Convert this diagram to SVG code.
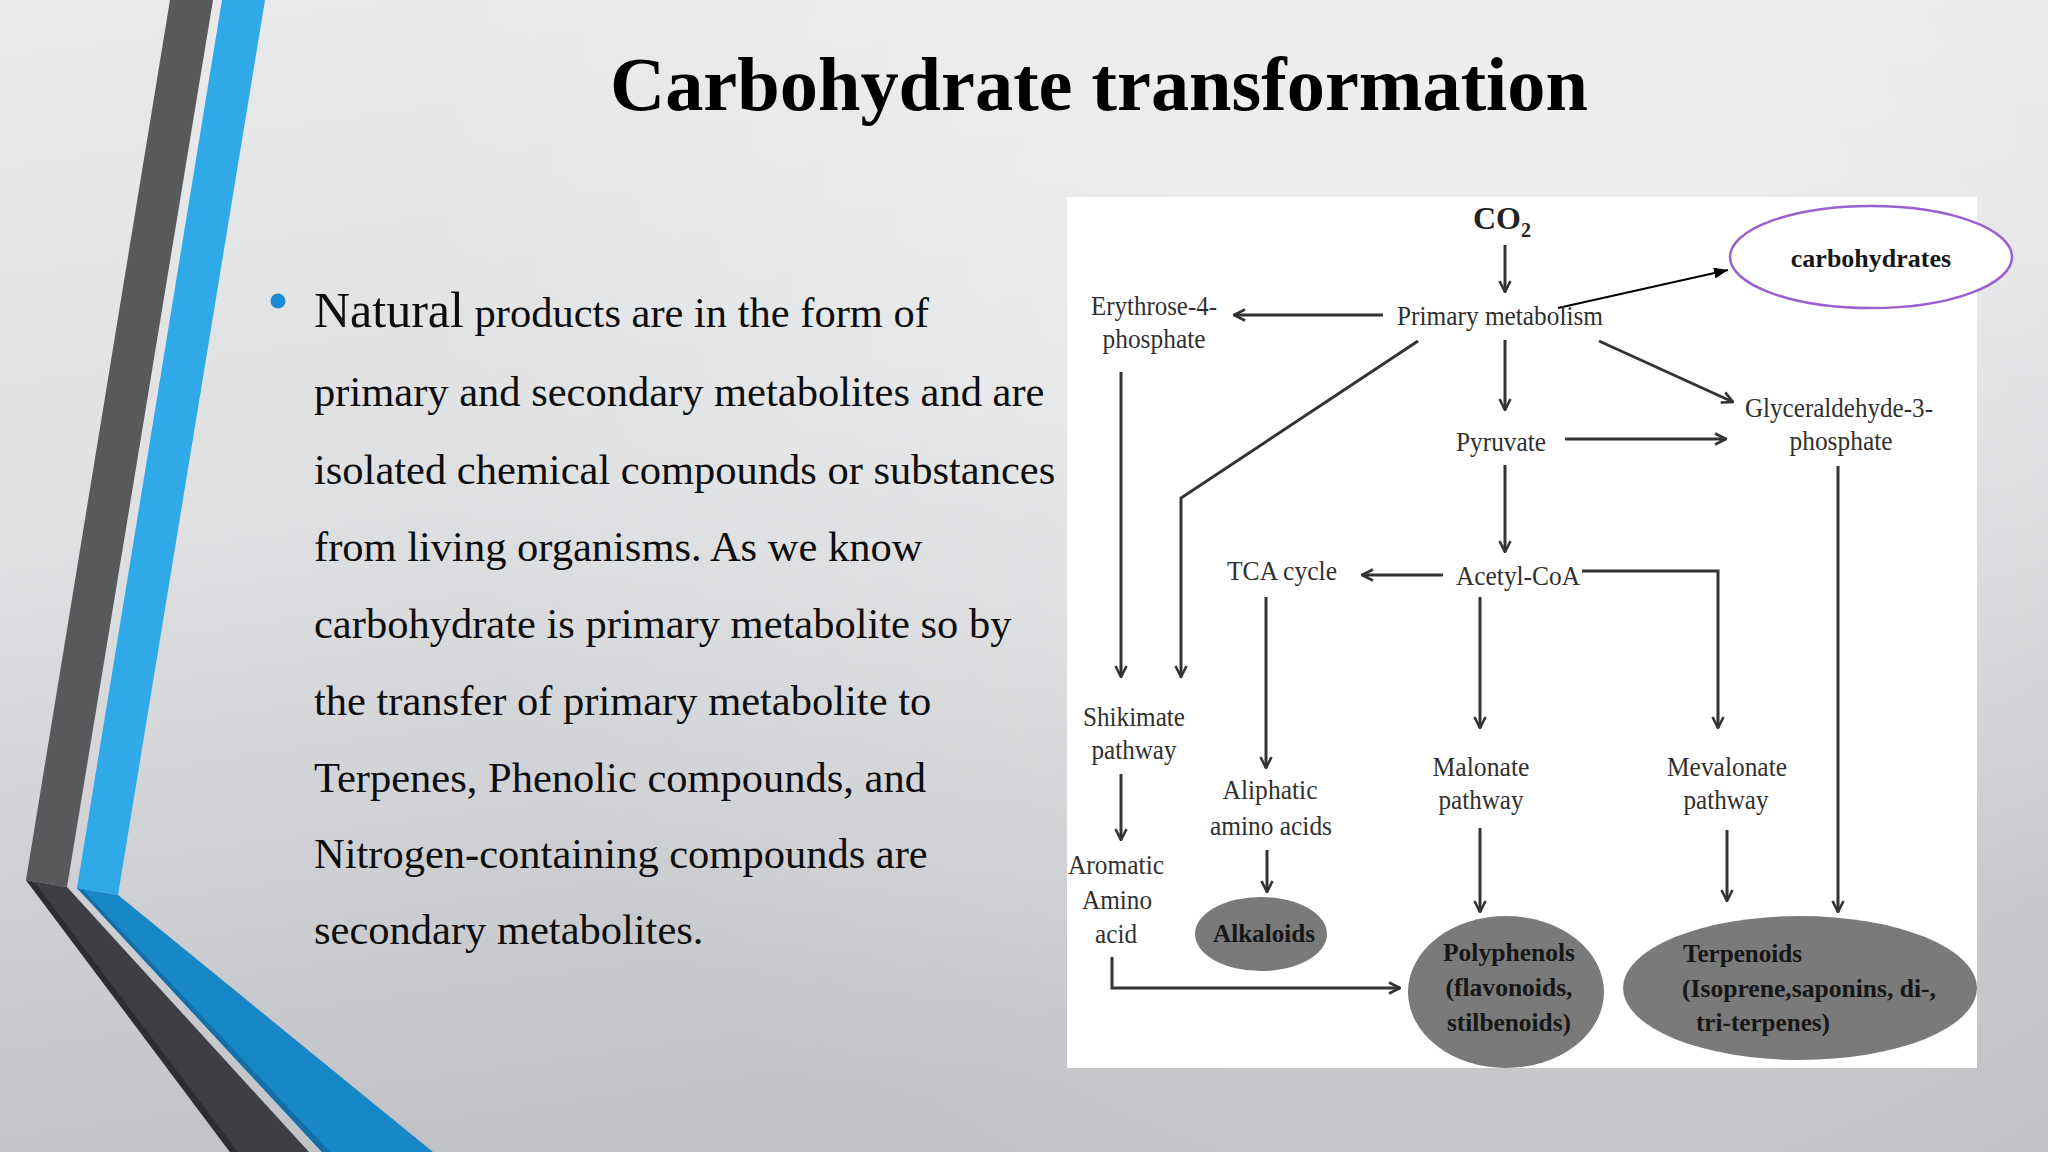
<svg xmlns="http://www.w3.org/2000/svg" width="2048" height="1152" viewBox="0 0 2048 1152">
  <defs>
    <linearGradient id="bg" x1="0" y1="0" x2="0.25" y2="1">
      <stop offset="0" stop-color="#e9eaeb"/>
      <stop offset="0.45" stop-color="#dfe0e2"/>
      <stop offset="1" stop-color="#c0c1c5"/>
    </linearGradient>
    <radialGradient id="glow" cx="1500" cy="250" r="1100" gradientUnits="userSpaceOnUse">
      <stop offset="0" stop-color="#ffffff" stop-opacity="0.45"/>
      <stop offset="1" stop-color="#ffffff" stop-opacity="0"/>
    </radialGradient>
    <marker id="chev" viewBox="0 0 14 14" refX="13" refY="7" markerWidth="14" markerHeight="14" orient="auto" markerUnits="userSpaceOnUse">
      <path d="M2,1.5 L13,7 L2,12.5" fill="none" stroke="#333" stroke-width="2.6"/>
    </marker>
    <marker id="tri" viewBox="0 0 14 11" refX="14" refY="5.5" markerWidth="14" markerHeight="11" orient="auto" markerUnits="userSpaceOnUse">
      <path d="M0,0 L14,5.5 L0,11 z" fill="#000"/>
    </marker>
  </defs>
  <style>
    .title { font-family: "Liberation Serif", "Times New Roman", serif; font-weight: bold; font-size: 77px; fill: #000; }
    .body { font-family: "Liberation Serif", "Times New Roman", serif; font-size: 42.5px; fill: #0d0d0d; }
    .lbl { font-family: "Liberation Serif", "Times New Roman", serif; font-size: 26.5px; fill: #303030; text-anchor: middle; }
    .blbl { font-family: "Liberation Serif", "Times New Roman", serif; font-size: 26px; font-weight: bold; fill: #161616; }
    .conn { fill: none; stroke: #333; stroke-width: 3; }
    .connA { fill: none; stroke: #333; stroke-width: 3; marker-end: url(#chev); }
    .prod { fill: #7a7a7a; }
  </style>

  <!-- background -->
  <rect x="0" y="0" width="2048" height="1152" fill="url(#bg)"/>
  <rect x="0" y="0" width="2048" height="1152" fill="url(#glow)"/>

  <!-- left decoration -->
  <g id="decoration">
    <polygon points="170,0 213,0 67,887 26,880" fill="#58595b"/>
    <polygon points="222,0 265,0 118,895 77,888" fill="#2fa9e8"/>
    <polygon points="26,880 67,887 309,1152 230,1152" fill="#3e3f43"/>
    <polygon points="26,880 36,884 238,1152 230,1152" fill="#2c2d31"/>
    <polygon points="77,888 118,895 433,1152 322,1152" fill="#1787c8"/>
    <polygon points="77,888 84,891 330,1152 322,1152" fill="#136fa6"/>
  </g>

  <!-- title -->
  <text class="title" x="1099" y="110" text-anchor="middle" textLength="978" lengthAdjust="spacingAndGlyphs">Carbohydrate transformation</text>

  <!-- bullet text -->
  <g id="bullet-text">
    <circle cx="278" cy="301" r="7.5" fill="#1a8ad4"/>
    <text class="body" x="314" y="327"><tspan font-size="50">Natural</tspan><tspan font-size="42.5"> products are in the form of</tspan></text>
    <text class="body" x="314" y="406">primary and secondary metabolites and are</text>
    <text class="body" x="314" y="484">isolated chemical compounds or substances</text>
    <text class="body" x="314" y="561">from living organisms. As we know</text>
    <text class="body" x="314" y="638">carbohydrate is primary metabolite so by</text>
    <text class="body" x="314" y="715">the transfer of primary metabolite to</text>
    <text class="body" x="314" y="792">Terpenes, Phenolic compounds, and</text>
    <text class="body" x="314" y="868">Nitrogen-containing compounds are</text>
    <text class="body" x="314" y="944">secondary metabolites.</text>
  </g>

  <!-- diagram panel -->
  <rect id="panel" x="1067" y="197" width="910" height="871" fill="#ffffff"/>

  <!-- connectors -->
  <g id="connectors">
    <line class="connA" x1="1505" y1="245" x2="1505" y2="292"/>
    <line class="connA" x1="1383" y1="315" x2="1234" y2="315"/>
    <line class="connA" x1="1505" y1="340" x2="1505" y2="410"/>
    <line class="connA" x1="1599" y1="341" x2="1733" y2="402"/>
    <line class="connA" x1="1565" y1="439" x2="1726" y2="439"/>
    <line class="connA" x1="1505" y1="465" x2="1505" y2="552"/>
    <line class="connA" x1="1121" y1="372" x2="1121" y2="677"/>
    <polyline class="connA" points="1418,341 1181,498 1181,677"/>
    <line class="connA" x1="1443" y1="575" x2="1362" y2="575"/>
    <polyline class="connA" points="1582,571 1718,571 1718,728"/>
    <line class="connA" x1="1480" y1="597" x2="1480" y2="728"/>
    <line class="connA" x1="1266" y1="597" x2="1266" y2="768"/>
    <line class="connA" x1="1121" y1="774" x2="1121" y2="840"/>
    <line class="connA" x1="1267" y1="850" x2="1267" y2="892"/>
    <line class="connA" x1="1480" y1="828" x2="1480" y2="912"/>
    <line class="connA" x1="1727" y1="830" x2="1727" y2="901"/>
    <line class="connA" x1="1838" y1="466" x2="1838" y2="912"/>
    <polyline class="connA" points="1112,957 1112,988 1400,988"/>
    <line x1="1558" y1="308" x2="1728" y2="270" stroke="#000" stroke-width="2.2" marker-end="url(#tri)"/>
  </g>

  <!-- nodes -->
  <g id="node-co2">
    <text x="1473" y="229" font-family="Liberation Serif, serif" font-weight="bold" font-size="32" fill="#222">CO<tspan font-size="20" dy="8">2</tspan></text>
  </g>
  <g id="node-carbohydrates">
    <ellipse cx="1871" cy="257" rx="141" ry="51" fill="#ffffff" stroke="#9a5fd0" stroke-width="2.5"/>
    <text class="blbl" x="1871" y="267" text-anchor="middle" fill="#000" font-size="25">carbohydrates</text>
  </g>
  <g id="node-primary">
    <text class="lbl" x="1500" y="325" textLength="206" lengthAdjust="spacingAndGlyphs">Primary metabolism</text>
  </g>
  <g id="node-erythrose">
    <text class="lbl" x="1154" y="315" textLength="126" lengthAdjust="spacingAndGlyphs">Erythrose-4-</text>
    <text class="lbl" x="1154" y="348" textLength="103" lengthAdjust="spacingAndGlyphs">phosphate</text>
  </g>
  <g id="node-pyruvate">
    <text class="lbl" x="1501" y="451" textLength="90" lengthAdjust="spacingAndGlyphs">Pyruvate</text>
  </g>
  <g id="node-glyceraldehyde">
    <text class="lbl" x="1839" y="417" textLength="188" lengthAdjust="spacingAndGlyphs">Glyceraldehyde-3-</text>
    <text class="lbl" x="1841" y="450" textLength="103" lengthAdjust="spacingAndGlyphs">phosphate</text>
  </g>
  <g id="node-tca">
    <text class="lbl" x="1282" y="580" textLength="110" lengthAdjust="spacingAndGlyphs">TCA cycle</text>
  </g>
  <g id="node-acetyl">
    <text class="lbl" x="1518" y="585" textLength="124" lengthAdjust="spacingAndGlyphs">Acetyl-CoA</text>
  </g>
  <g id="node-shikimate">
    <text class="lbl" x="1134" y="726" textLength="102" lengthAdjust="spacingAndGlyphs">Shikimate</text>
    <text class="lbl" x="1134" y="759" textLength="85" lengthAdjust="spacingAndGlyphs">pathway</text>
  </g>
  <g id="node-aliphatic">
    <text class="lbl" x="1270" y="799" textLength="95" lengthAdjust="spacingAndGlyphs">Aliphatic</text>
    <text class="lbl" x="1271" y="835" textLength="122" lengthAdjust="spacingAndGlyphs">amino acids</text>
  </g>
  <g id="node-malonate">
    <text class="lbl" x="1481" y="776" textLength="97" lengthAdjust="spacingAndGlyphs">Malonate</text>
    <text class="lbl" x="1481" y="809" textLength="85" lengthAdjust="spacingAndGlyphs">pathway</text>
  </g>
  <g id="node-mevalonate">
    <text class="lbl" x="1727" y="776" textLength="120" lengthAdjust="spacingAndGlyphs">Mevalonate</text>
    <text class="lbl" x="1726" y="809" textLength="85" lengthAdjust="spacingAndGlyphs">pathway</text>
  </g>
  <g id="node-aromatic">
    <text class="lbl" x="1116" y="874" textLength="96" lengthAdjust="spacingAndGlyphs">Aromatic</text>
    <text class="lbl" x="1117" y="909" textLength="70" lengthAdjust="spacingAndGlyphs">Amino</text>
    <text class="lbl" x="1116" y="943" textLength="42" lengthAdjust="spacingAndGlyphs">acid</text>
  </g>
  <g id="node-alkaloids">
    <ellipse class="prod" cx="1261" cy="934" rx="66" ry="37"/>
    <text class="blbl" x="1264" y="942" text-anchor="middle" textLength="102" lengthAdjust="spacingAndGlyphs">Alkaloids</text>
  </g>
  <g id="node-polyphenols">
    <ellipse class="prod" cx="1506" cy="992" rx="98" ry="76"/>
    <text class="blbl" x="1509" y="961" text-anchor="middle" textLength="132" lengthAdjust="spacingAndGlyphs">Polyphenols</text>
    <text class="blbl" x="1509" y="996" text-anchor="middle" textLength="127" lengthAdjust="spacingAndGlyphs">(flavonoids,</text>
    <text class="blbl" x="1509" y="1031" text-anchor="middle" textLength="124" lengthAdjust="spacingAndGlyphs">stilbenoids)</text>
  </g>
  <g id="node-terpenoids">
    <ellipse class="prod" cx="1800" cy="988" rx="177" ry="72"/>
    <text class="blbl" x="1683" y="962" textLength="119" lengthAdjust="spacingAndGlyphs">Terpenoids</text>
    <text class="blbl" x="1682" y="997" textLength="254" lengthAdjust="spacingAndGlyphs">(Isoprene,saponins, di-,</text>
    <text class="blbl" x="1696" y="1031" textLength="134" lengthAdjust="spacingAndGlyphs">tri-terpenes)</text>
  </g>
</svg>
